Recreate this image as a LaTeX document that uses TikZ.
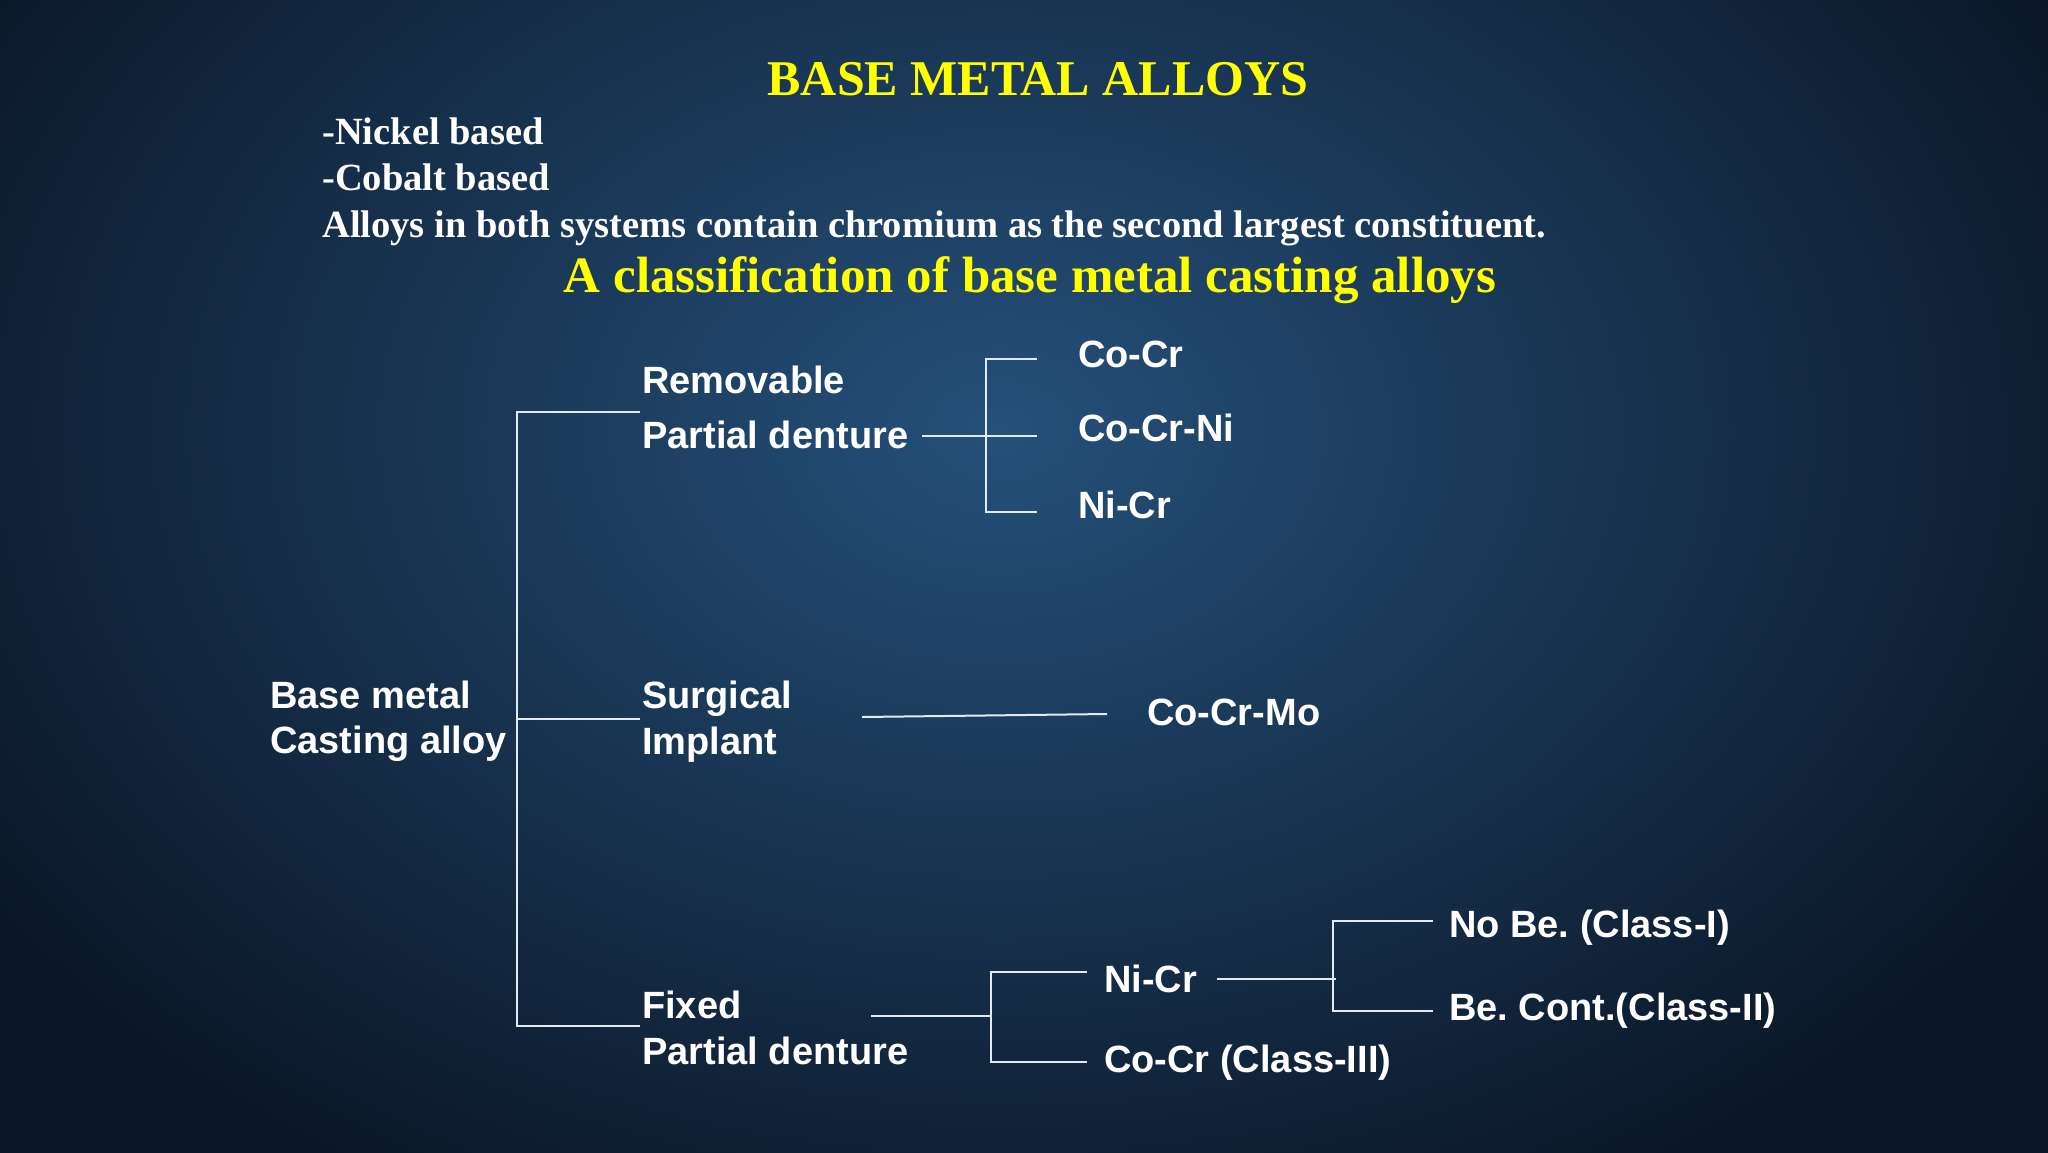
\documentclass[tikz,border=0pt]{standalone}
\usepackage{fontspec}
\setmainfont{Liberation Serif}
\newfontfamily\treefont{Liberation Sans}
\definecolor{bgdark}{HTML}{0A1525}
\definecolor{bgmid}{HTML}{25507A}
\definecolor{ttlyellow}{HTML}{FFFF00}
\definecolor{linec}{HTML}{E2EAF3}
\frenchspacing
\begin{document}
\begin{tikzpicture}[x=1pt,y=-1pt,
  hdr/.style={inner sep=0pt, text=white, font=\fontsize{38.5}{42}\selectfont\bfseries, anchor=base west},
  ttl/.style={inner sep=0pt, text=ttlyellow, anchor=base},
  lbl/.style={inner sep=0pt, text=white, font=\treefont\fontsize{38}{42}\selectfont\bfseries, anchor=base west},
  conn/.style={draw=linec, line width=2pt},
  trunk/.style={draw=linec, line width=1.6pt},
]
\useasboundingbox (0,0) rectangle (2048,1152);
\clip (0,0) rectangle (2048,1152);
\fill[bgdark] (0,0) rectangle (2048,1152);
\shade[inner color=bgmid, outer color=bgdark] (-250,-470) rectangle (2250,1330);

% header texts
\node[ttl, font=\fontsize{50}{56}\selectfont\bfseries] (title) at (1038,95) {BASE METAL ALLOYS};
\node[hdr] (nickel) at (322,144) {-Nickel based};
\node[hdr] (cobalt) at (322,190) {-Cobalt based};
\node[hdr] (alloys) at (322,237) {Alloys in both systems contain chromium as the second largest constituent.};
\node[ttl, font=\fontsize{51}{56}\selectfont\bfseries] (classif) at (1030,292) {A classification of base metal casting alloys};

% tree labels
\node[lbl] (base1) at (270,708) {Base metal};
\node[lbl] (base2) at (270,753) {Casting alloy};
\node[lbl] (rem1) at (642,393) {Removable};
\node[lbl] (rem2) at (642,448) {Partial denture};
\node[lbl] (surg1) at (642,708) {Surgical};
\node[lbl] (surg2) at (642,754) {Implant};
\node[lbl] (fix1) at (642,1018) {Fixed};
\node[lbl] (fix2) at (642,1064) {Partial denture};
\node[lbl] (cocr) at (1078,367) {Co-Cr};
\node[lbl] (cocrni) at (1078,441) {Co-Cr-Ni};
\node[lbl] (nicrA) at (1078,518) {Ni-Cr};
\node[lbl] (cocrmo) at (1147,725) {Co-Cr-Mo};
\node[lbl] (nicrB) at (1104,992) {Ni-Cr};
\node[lbl] (cocrIII) at (1104,1072) {Co-Cr (Class-III)};
\node[lbl] (nobe) at (1449,937) {No Be. (Class-I)};
\node[lbl] (becont) at (1449,1020) {Be. Cont.(Class-II)};

% junction coordinates
\coordinate (trTop) at (517,412);
\coordinate (trMid) at (517,719);
\coordinate (trBot) at (517,1026);
\coordinate (remIn) at (640,412);
\coordinate (surgIn) at (640,719);
\coordinate (fixIn) at (640,1026);

\coordinate (remOut) at (922,436);
\coordinate (rbTop) at (986,358.5);
\coordinate (rbBot) at (986,512);
\coordinate (cocrIn) at (1037,358.5);
\coordinate (cocrniIn) at (1037,436);
\coordinate (nicrAIn) at (1037,512);

\coordinate (surgOut) at (862,717);
\coordinate (cocrmoIn) at (1107,714);

\coordinate (fixOut) at (871,1016);
\coordinate (fbMid) at (991,1016);
\coordinate (fbTop) at (991,972);
\coordinate (fbBot) at (991,1062);
\coordinate (nicrBIn) at (1087,972);
\coordinate (cocrIIIIn) at (1087,1062);

\coordinate (nicrBOut) at (1217,979);
\coordinate (nbMid) at (1336,979);
\coordinate (nbTop) at (1333,921);
\coordinate (nbBot) at (1333,1011);
\coordinate (nobeIn) at (1433,921);
\coordinate (becontIn) at (1433,1011);

% connectors
\draw[trunk] (remIn) -- (trTop) -- (trBot) -- (fixIn);
\draw[trunk] (trMid) -- (surgIn);

\draw[conn] (remOut) -- (cocrniIn);
\draw[conn] (cocrIn) -- (rbTop) -- (rbBot) -- (nicrAIn);

\draw[conn] (surgOut) -- (cocrmoIn);

\draw[conn] (fixOut) -- (fbMid);
\draw[conn] (nicrBIn) -- (fbTop) -- (fbBot) -- (cocrIIIIn);

\draw[conn] (nicrBOut) -- (nbMid);
\draw[conn] (nobeIn) -- (nbTop) -- (nbBot) -- (becontIn);
\end{tikzpicture}
\end{document}
